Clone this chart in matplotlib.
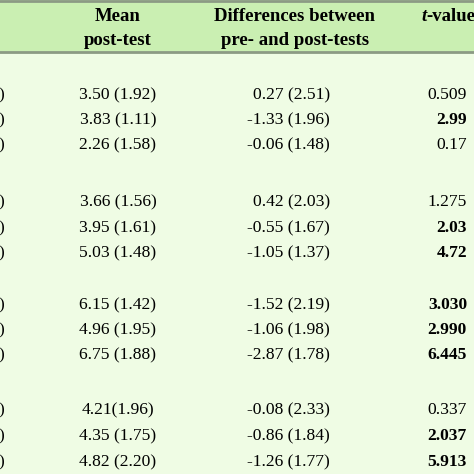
import matplotlib
matplotlib.use("Agg")
import matplotlib.pyplot as plt

mean_post = ["3.50 (1.92)", "3.83 (1.11)", "2.26 (1.58)",
             "3.66 (1.56)", "3.95 (1.61)", "5.03 (1.48)",
             "6.15 (1.42)", "4.96 (1.95)", "6.75 (1.88)",
             "4.21(1.96)", "4.35 (1.75)", "4.82 (2.20)"]
differences = ["0.27 (2.51)", "-1.33 (1.96)", "-0.06 (1.48)",
               "0.42 (2.03)", "-0.55 (1.67)", "-1.05 (1.37)",
               "-1.52 (2.19)", "-1.06 (1.98)", "-2.87 (1.78)",
               "-0.08 (2.33)", "-0.86 (1.84)", "-1.26 (1.77)"]
t_values = ["0.509", "2.99", "0.17",
            "1.275", "2.03", "4.72",
            "3.030", "2.990", "6.445",
            "0.337", "2.037", "5.913"]
t_bold = [False, True, False, False, True, True, True, True, True, False, True, True]

W = H = 474
fig = plt.figure(figsize=(4.74, 4.74), dpi=100)
fig.patch.set_facecolor("#effce4")
ax = fig.add_axes([0, 0, 1, 1])
ax.set_xlim(0, W); ax.set_ylim(H, 0); ax.axis("off")

ax.axhspan(0, 52, color="#caefb2", zorder=0)
ax.axhline(1, color="#8c9a84", lw=2)
ax.axhline(52, color="#8c9a84", lw=2)

font = "Liberation Serif"
fs = 12.6
hfs = 13.5
ax.text(118, 16, "Mean", ha="center", va="center", fontsize=hfs, fontweight="bold", family=font)
ax.text(118, 40, "post-test", ha="center", va="center", fontsize=hfs, fontweight="bold", family=font)
ax.text(295, 16, "Differences between", ha="center", va="center", fontsize=hfs, fontweight="bold", family=font)
ax.text(295, 40, "pre- and post-tests", ha="center", va="center", fontsize=hfs, fontweight="bold", family=font)
t1 = ax.text(421, 16, "t", ha="left", va="center", fontsize=hfs,
             fontweight="bold", style="italic", family=font)
fig.canvas.draw()
bb = t1.get_window_extent()
x_after = ax.transData.inverted().transform((bb.x1, bb.y0))[0]
ax.text(x_after + 0.5, 16, "-value", ha="left", va="center", fontsize=hfs, fontweight="bold", family=font)

ys = [95, 120, 145, 202, 228, 253, 305, 330, 355, 410, 436, 462]
for i, y in enumerate(ys):
    ax.text(-2, y, ")", ha="left", va="center", fontsize=fs, family=font)
    ax.text(118, y, mean_post[i], ha="center", va="center", fontsize=fs, family=font)
    ax.text(330, y, differences[i], ha="right", va="center", fontsize=fs, family=font)
    ax.text(467, y, t_values[i], ha="right", va="center", fontsize=fs, family=font,
            fontweight="bold" if t_bold[i] else "normal")

fig.savefig("out.png", dpi=100, facecolor=fig.get_facecolor())
